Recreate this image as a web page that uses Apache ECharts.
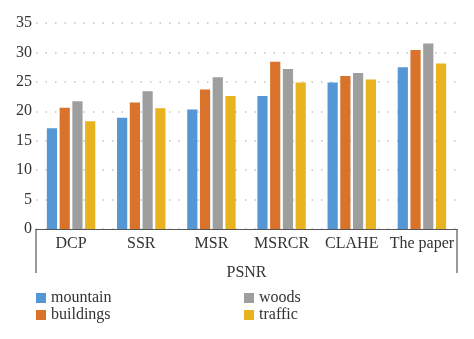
<!DOCTYPE html>
<html><head><meta charset="utf-8">
<script src="https://cdn.jsdelivr.net/npm/echarts@6/dist/echarts.min.js"></script>
<style>html,body{margin:0;padding:0;background:#fff}#c{width:474px;height:339px}</style>
</head><body><div id="c"></div>
<script>
var categories = ['DCP', 'SSR', 'MSR', 'MSRCR', 'CLAHE', 'The paper'];
var mountain  = [17.1, 18.9, 20.3, 22.6, 24.9, 27.5];
var buildings = [20.6, 21.5, 23.7, 28.4, 26.0, 30.4];
var woods     = [21.7, 23.4, 25.8, 27.2, 26.5, 31.5];
var traffic   = [18.3, 20.5, 22.6, 24.9, 25.4, 28.1];
var seriesNames = ['mountain', 'buildings', 'woods', 'traffic'];
var colors = ['#5597d4', '#d9722a', '#9e9e9e', '#e9b21f'];
var axisTitle = 'PSNR';

var font = '"Liberation Serif", "DejaVu Serif", serif';
var chart = echarts.init(document.getElementById('c'));
function bar(name, data, i) {
  return { name: name, type: 'bar', data: data, barGap: '25%', barCategoryGap: '31%',
    itemStyle: { color: colors[i] } };
}
var gridLeft = 36, gridRight = 17, gridTop = 23, gridBottom = 110;
chart.setOption({
  animation: false,
  textStyle: { fontFamily: font },
  grid: { left: gridLeft, right: gridRight, top: gridTop, bottom: gridBottom, containLabel: false },
  legend: [
    { data: [seriesNames[0], seriesNames[1]], orient: 'vertical', left: 31, top: 285,
      itemWidth: 10, itemHeight: 10, itemGap: 1, icon: 'rect',
      textStyle: { fontFamily: font, fontSize: 16, color: '#333' } },
    { data: [seriesNames[2], seriesNames[3]], orient: 'vertical', left: 239, top: 285,
      itemWidth: 10, itemHeight: 10, itemGap: 1, icon: 'rect',
      textStyle: { fontFamily: font, fontSize: 16, color: '#333' } }
  ],
  xAxis: {
    type: 'category', data: categories,
    axisLine: { lineStyle: { color: '#555', width: 1.2 } },
    axisTick: { show: false },
    axisLabel: { fontFamily: font, fontSize: 16, color: '#333', margin: 7, interval: 0 },
    name: axisTitle, nameLocation: 'middle', nameGap: 36,
    nameTextStyle: { fontFamily: font, fontSize: 16, color: '#333' }
  },
  yAxis: {
    type: 'value', min: 0, max: 35, interval: 5,
    axisLine: { show: false }, axisTick: { show: false },
    axisLabel: { fontFamily: font, fontSize: 16, color: '#333', margin: 4 },
    splitLine: { lineStyle: { color: '#c4c4c4', type: [1.5, 8], width: 1.5 } }
  },
  series: [bar(seriesNames[0], mountain, 0), bar(seriesNames[1], buildings, 1),
           bar(seriesNames[2], woods, 2), bar(seriesNames[3], traffic, 3)]
});
var x0 = gridLeft, x1 = 474 - gridRight, yb = 339 - gridBottom;
chart.setOption({ graphic: [
  { type: 'line', shape: { x1: x0, y1: yb, x2: x0, y2: yb + 44 }, style: { stroke: '#555', lineWidth: 1.2 } },
  { type: 'line', shape: { x1: x1, y1: yb, x2: x1, y2: yb + 44 }, style: { stroke: '#555', lineWidth: 1.2 } }
]});
</script></body></html>
